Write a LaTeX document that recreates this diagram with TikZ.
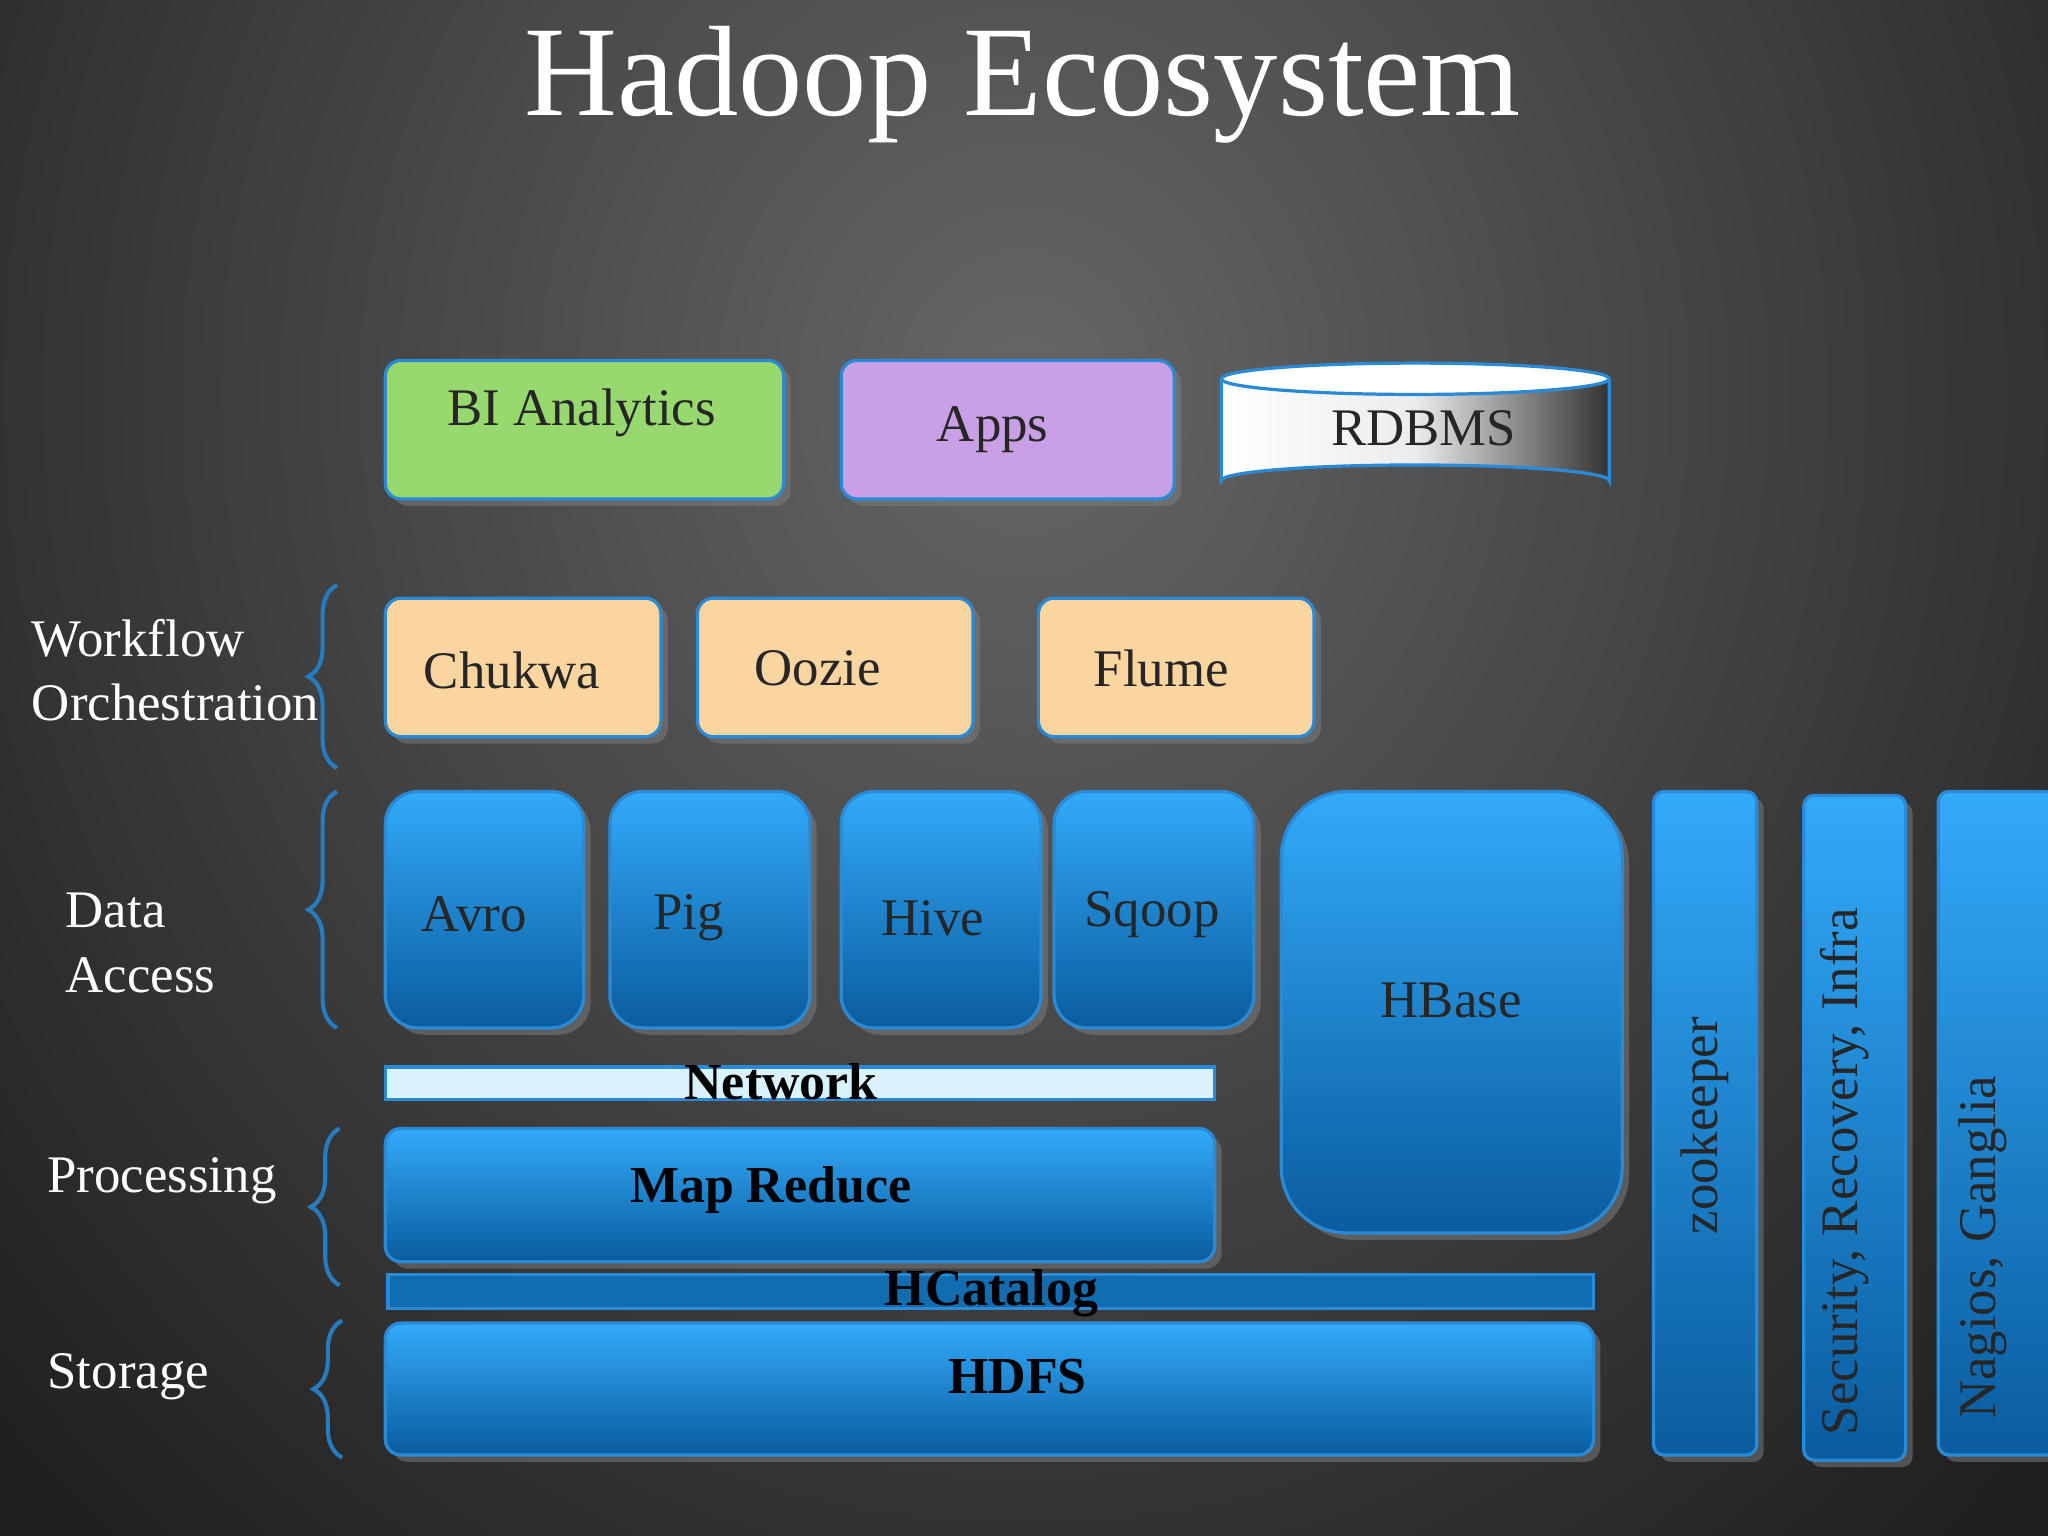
\documentclass[tikz,border=0pt]{standalone}
\usepackage{fontspec}
\setmainfont{Liberation Serif}
\usetikzlibrary{decorations.pathreplacing,shadows}
\definecolor{bord}{HTML}{2A8AD6}
\definecolor{btop}{HTML}{33AAFA}
\definecolor{bbot}{HTML}{0A5C9E}
\definecolor{bigreen}{HTML}{98D96F}
\definecolor{appv}{HTML}{C9A0E6}
\definecolor{tan}{HTML}{FBD5A0}
\begin{document}
\begin{tikzpicture}[x=0.01cm,y=-0.01cm,
  box/.style={draw=bord,line width=0.7pt,rounded corners=0.12cm,drop shadow={shadow xshift=1.5pt,shadow yshift=-1.5pt,opacity=0.5}},
  bluebox/.style={box,top color=btop,bottom color=bbot},
  lbl/.style={font=\fontsize{11.5}{13}\selectfont,text=black!85},
  blbl/.style={font=\bfseries\fontsize{11.3}{13}\selectfont,text=black},
  side/.style={font=\fontsize{11.5}{14}\selectfont,text=white,align=left},
  brc/.style={draw=bord!90!black,line width=0.9pt,decorate,decoration={brace,amplitude=0.22cm,mirror}}]
\useasboundingbox (0,0) rectangle (1568,1176);
\fill[black!85] (0,0) rectangle (1568,1176);
\shade[inner color=black!60,outer color=black!88,shading=radial] (-300,-900) rectangle (1868,1500);
\node[font=\fontsize{28}{30}\selectfont,text=white] (title) at (783,65) {Hadoop Ecosystem};
% top row
\draw[box,fill=bigreen] (295,276) rectangle (600,382);
\node[lbl,anchor=west] (bi) at (330,316) {BI Analytics};
\draw[box,fill=appv] (644,276) rectangle (899,382);
\node[lbl] (apps) at (760,329) {Apps};
\shade[left color=white,right color=black!80,middle color=white!85!gray]
  (935,290) -- (935,368) arc[start angle=180,end angle=360,x radius=148.5,y radius=12] -- (1232,290) arc[start angle=0,end angle=180,x radius=148.5,y radius=12];
\draw[bord,line width=0.7pt,fill=white] (1083.5,290) ellipse[x radius=148.5,y radius=12];
\draw[bord,line width=0.7pt] (935,290) -- (935,368) arc[start angle=180,end angle=360,x radius=148.5,y radius=12] -- (1232,290);
\node[lbl] (rdbms) at (1090,328) {RDBMS};
% workflow
\draw[box,fill=tan] (295,458) rectangle (506,564);
\node[lbl] (chukwa) at (392,513) {Chukwa};
\draw[box,fill=tan] (534,458) rectangle (745,564);
\node[lbl] (oozie) at (626,512) {Oozie};
\draw[box,fill=tan] (795,458) rectangle (1006,564);
\node[lbl] (flume) at (889,512) {Flume};
% data access
\draw[bluebox,rounded corners=0.25cm] (295,606) rectangle (447,787);
\node[lbl] (avro) at (363,700) {Avro};
\draw[bluebox,rounded corners=0.25cm] (467,606) rectangle (620,787);
\node[lbl] (pig) at (527,703) {Pig};
\draw[bluebox,rounded corners=0.25cm] (644,606) rectangle (797,787);
\node[lbl] (hive) at (714,703) {Hive};
\draw[bluebox,rounded corners=0.25cm] (807,606) rectangle (960,787);
\node[lbl] (sqoop) at (882,700) {Sqoop};
\draw[bluebox,rounded corners=0.5cm] (981,606) rectangle (1242,944);
\node[lbl] (hbase) at (1111,766) {HBase};
% network
\draw[draw=bord,line width=0.7pt,fill=cyan!15!white] (295,817) rectangle (930,842);
\node[blbl] (net) at (598,828) {Network};
\draw[bluebox] (295,864) rectangle (930,966);
\node[blbl] (mr) at (590,911) {Map Reduce};
\draw[draw=bord,line width=0.7pt,fill=bbot!80!btop] (297,976) rectangle (1220,1002);
\node[blbl] (hcat) at (759,990) {HCatalog};
\draw[bluebox] (295,1013) rectangle (1220,1114);
\node[blbl] (hdfs) at (779,1054) {HDFS};
% verticals
\draw[bluebox,rounded corners=0.08cm] (1266,606) rectangle (1345,1114);
\node[lbl,rotate=90] (zk) at (1305,862) {zookeeper};
\draw[bluebox,rounded corners=0.08cm] (1381,609) rectangle (1459,1118);
\node[lbl,rotate=90] (sec) at (1412,897) {Security, Recovery, Infra};
\draw[bluebox,rounded corners=0.08cm] (1484,606) rectangle (1575,1114);
\node[lbl,rotate=90] (nag) at (1518,955) {Nagios, Ganglia};
% side labels
\node[side,anchor=west] (wf) at (12,513) {Workflow\\Orchestration};
\node[side,anchor=west] (da) at (38,722) {Data\\Access};
\node[side,anchor=west] (pr) at (24,904) {Processing};
\node[side,anchor=west] (st) at (24,1054) {Storage};
\coordinate (b1t) at (258,448); \coordinate (b1b) at (258,588);
\coordinate (b2t) at (258,606); \coordinate (b2b) at (258,787);
\coordinate (b3t) at (260,864); \coordinate (b3b) at (260,984);
\coordinate (b4t) at (262,1011); \coordinate (b4b) at (262,1116);
\draw[brc] (b1t) -- (b1b);
\draw[brc] (b2t) -- (b2b);
\draw[brc] (b3t) -- (b3b);
\draw[brc] (b4t) -- (b4b);
\end{tikzpicture}
\end{document}
